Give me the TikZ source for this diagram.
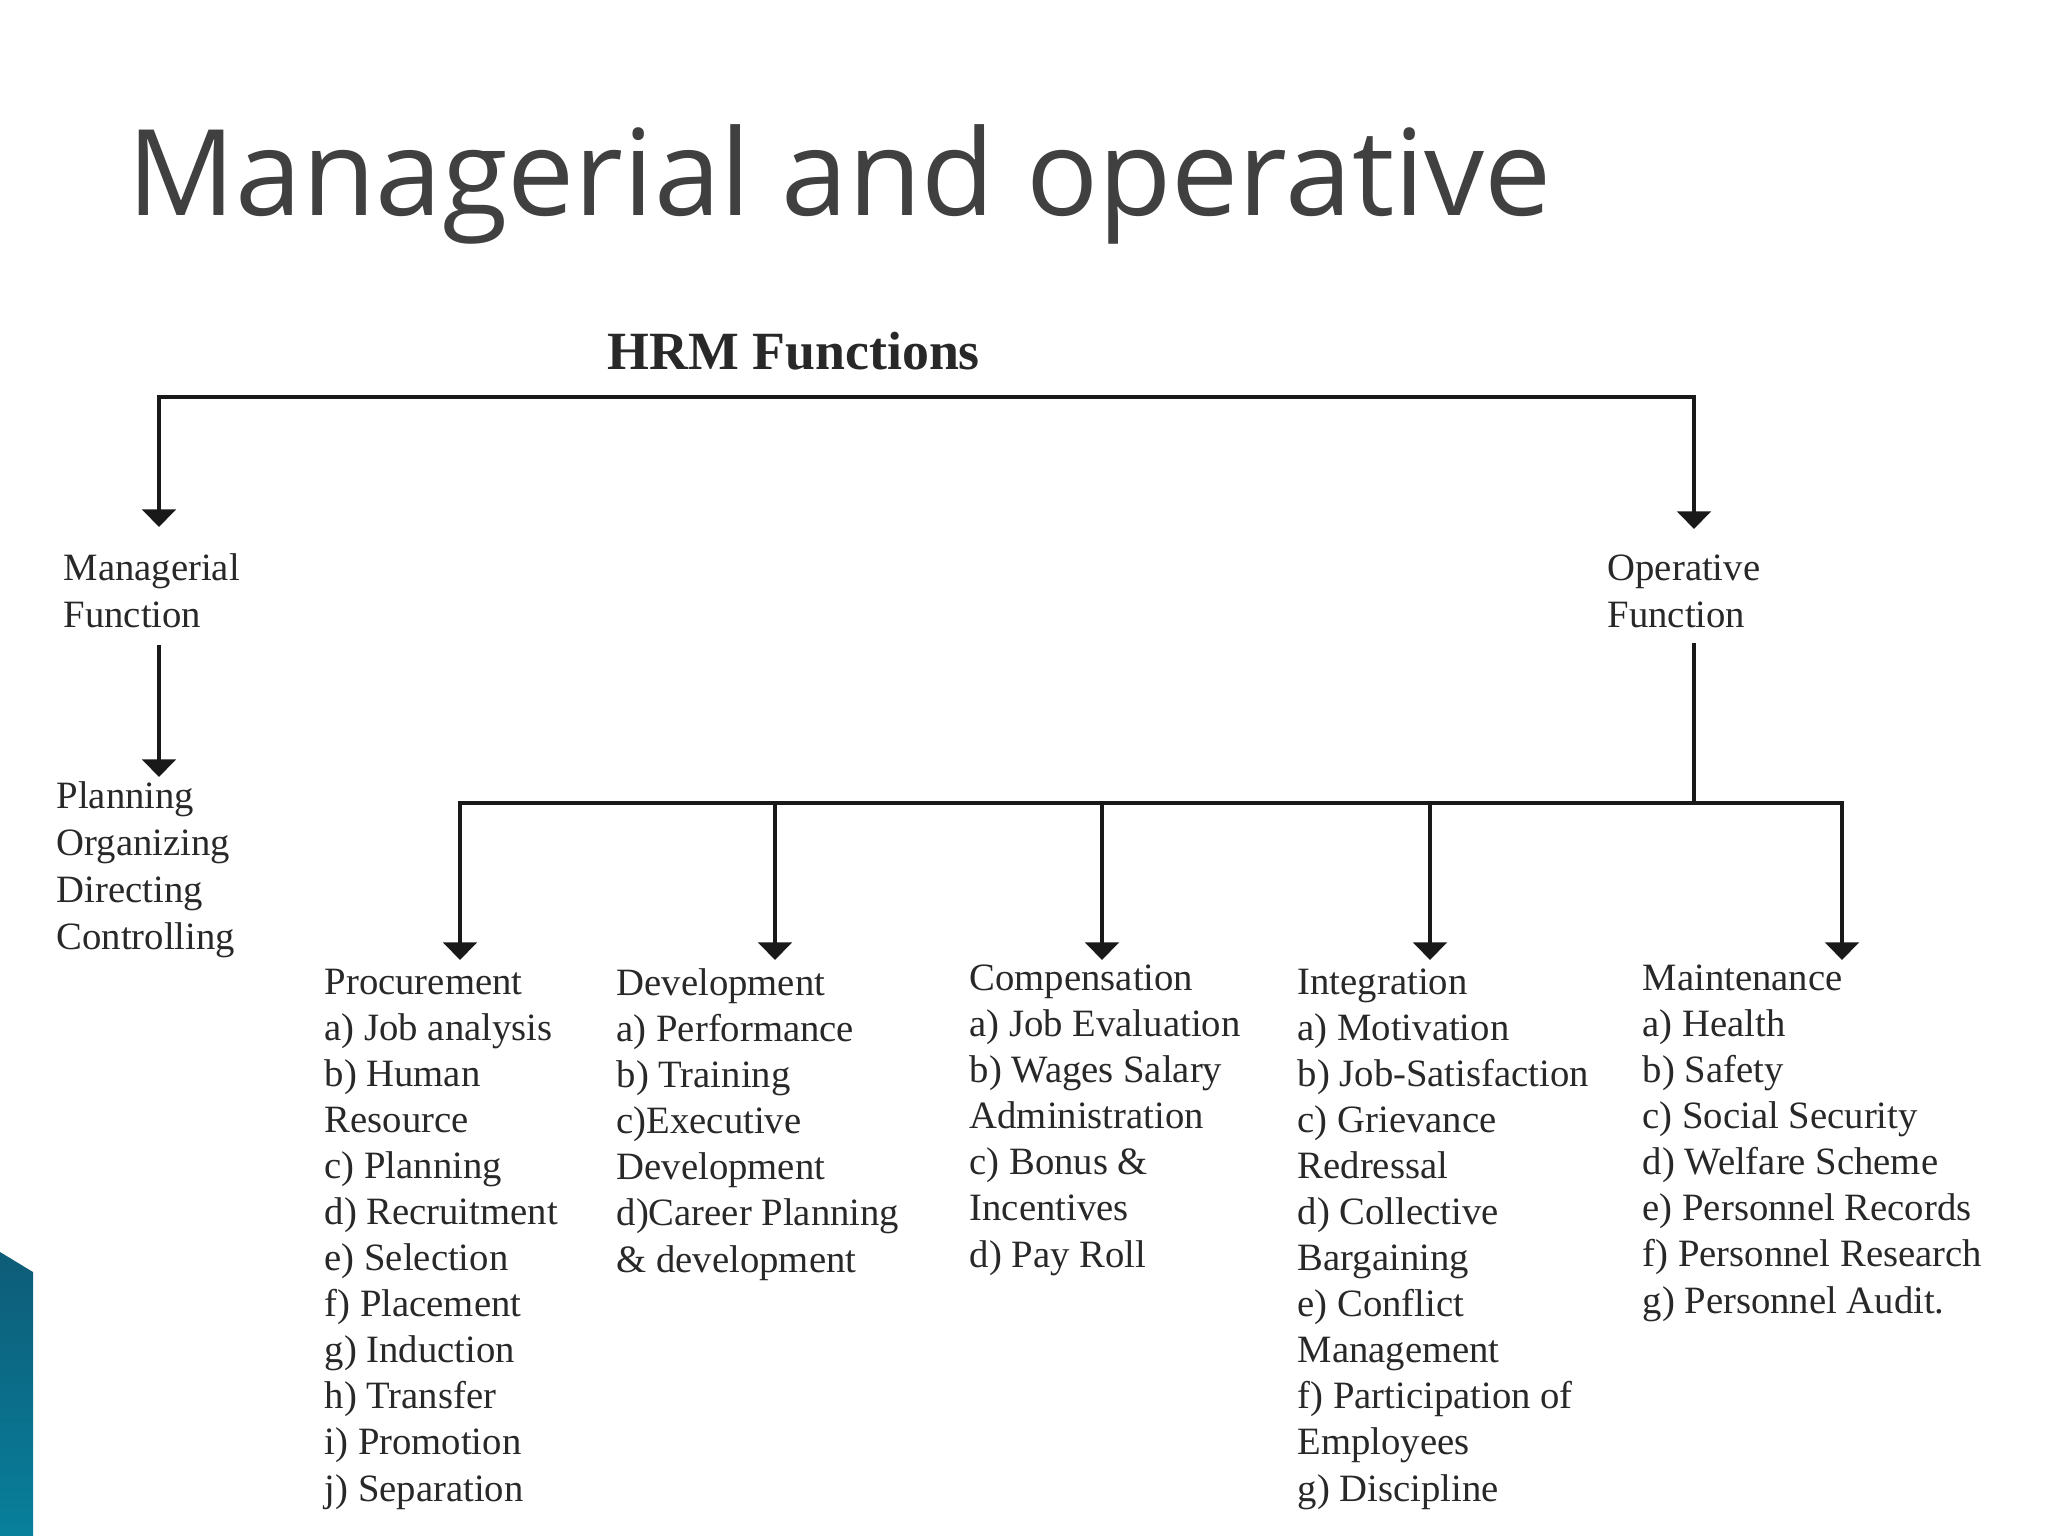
\documentclass[tikz,border=0pt]{standalone}
\usepackage{fontspec}
\setmainfont{Liberation Serif}
\newfontfamily\titlefont{Open Sans}
\usepackage{graphicx}
\usetikzlibrary{arrows.meta}
\definecolor{txt}{RGB}{40,40,40}
\definecolor{ttl}{RGB}{64,64,64}
\definecolor{lin}{RGB}{25,25,25}
\definecolor{tealtop}{RGB}{14,92,120}
\definecolor{tealbot}{RGB}{8,128,156}
\begin{document}
\begin{tikzpicture}[x=0.01cm,y=-0.01cm,
  lbl/.style={inner sep=0pt,anchor=base west,align=left,text=txt,
    font=\fontsize{11pt}{13.09pt}\selectfont},
  lbl2/.style={lbl,font=\fontsize{11pt}{13.3pt}\selectfont},
  conn/.style={draw=lin,line width=1.4pt},
  arr/.style={conn,-{Triangle[width=9.4pt,length=5pt]}},
  arrr/.style={conn,{Triangle[width=9.4pt,length=5pt]}-{Triangle[width=9.4pt,length=5pt]}}]
\useasboundingbox (0,0) rectangle (2048,1536);
\fill[white] (0,0) rectangle (2048,1536);
% blue decoration bottom-left
\shade[top color=tealtop,bottom color=tealbot] (0,1252) -- (33,1272) -- (33,1536) -- (0,1536) -- cycle;
% title
\node[inner sep=0pt,anchor=base west,text=ttl] (title) at (127,215)
  {\resizebox{14.23cm}{!}{\titlefont Managerial and operative}};
% HRM heading
\node[inner sep=0pt,anchor=base west,text=txt,font=\fontsize{15.3pt}{18pt}\selectfont\bfseries] (hrm) at (607,369) {HRM Functions};
% level 1 (anchor = baseline of the last line)
\node[lbl2] (mgr) at (63,627) {Managerial\\Function};
\node[lbl2] (opr) at (1607,627) {Operative\\Function};
\node[lbl2] (mgrlist) at (56,949) {Planning\\Organizing\\Directing\\Controlling};
% operative columns
\node[lbl] (proc) at (324,1501) {Procurement\\a) Job analysis\\b) Human\\Resource\\c) Planning\\d) Recruitment\\e) Selection\\f) Placement\\g) Induction\\h) Transfer\\i) Promotion\\j) Separation};
\node[lbl] (dev) at (616,1272) {Development\\a) Performance\\b) Training\\c)Executive\\Development\\d)Career Planning\\\& development};
\node[lbl] (comp) at (969,1267) {Compensation\\a) Job Evaluation\\b) Wages Salary\\Administration\\c) Bonus \&\\Incentives\\d) Pay Roll};
\node[lbl] (integ) at (1297,1501) {Integration\\a) Motivation\\b) Job-Satisfaction\\c) Grievance\\Redressal\\d) Collective\\Bargaining\\e) Conflict\\Management\\f) Participation of\\Employees\\g) Discipline};
\node[lbl] (maint) at (1642,1313) {Maintenance\\a) Health\\b) Safety\\c) Social Security\\d) Welfare Scheme\\e) Personnel Records\\f) Personnel Research\\g) Personnel Audit.};
% connector points
\coordinate (topL) at (159,397);
\coordinate (topR) at (1694,397);
\coordinate (mgrin) at (159,527);
\coordinate (oprin) at (1694,529);
\coordinate (mgrout) at (159,645);
\coordinate (mgrlistin) at (159,777);
\coordinate (oprout) at (1694,643);
\coordinate (busJ) at (1694,803);
\coordinate (busL) at (460,803);
\coordinate (busR) at (1842,803);
\coordinate (procin) at (460,960);
\coordinate (devin) at (775,960);
\coordinate (compin) at (1102,960);
\coordinate (integin) at (1430,960);
\coordinate (maintin) at (1842,960);
\coordinate (devbus) at (775,803);
\coordinate (compbus) at (1102,803);
\coordinate (integbus) at (1430,803);
% connectors
\draw[arrr] (mgrin) -- (topL) -- (topR) -- (oprin);
\draw[arr] (mgrout) -- (mgrlistin);
\draw[conn] (oprout) -- (busJ);
\draw[arrr] (procin) -- (busL) -- (busR) -- (maintin);
\draw[arr] (devbus) -- (devin);
\draw[arr] (compbus) -- (compin);
\draw[arr] (integbus) -- (integin);
\end{tikzpicture}
\end{document}
